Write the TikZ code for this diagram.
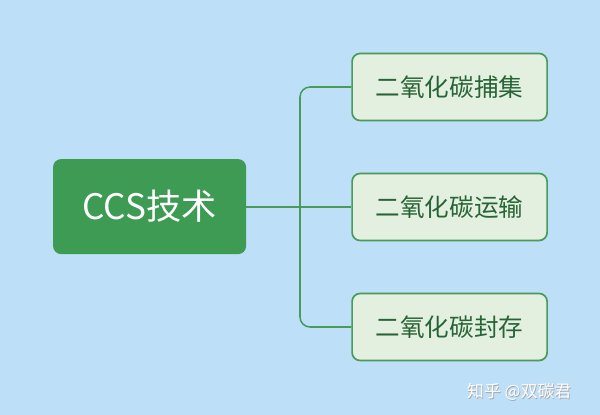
\documentclass[tikz,border=0pt]{standalone}
\usepackage{fontspec}
\setmainfont{Noto Sans CJK SC}
\usepackage{xcolor}
\usetikzlibrary{positioning,calc}

\definecolor{bgblue}{RGB}{189,223,248}
\definecolor{rootgreen}{RGB}{62,155,83}
\definecolor{leafgreen}{RGB}{227,240,223}
\definecolor{edgegreen}{RGB}{74,154,90}
\definecolor{textgreen}{RGB}{40,100,55}

\begin{document}
\begin{tikzpicture}[
					% Style cho nút gốc
					root/.style={rectangle, rounded corners=0.2cm, fill=rootgreen, draw=none,
						minimum width=4.825cm, minimum height=2.375cm,
						text=white, font=\fontsize{25}{28}\selectfont},
					% Style cho các nhánh
					leaf/.style={rectangle, rounded corners=0.2cm, fill=leafgreen, draw=edgegreen,
						line width=1.2pt, minimum width=4.875cm, minimum height=1.675cm,
						text=textgreen, font=\fontsize{17.5}{20}\selectfont},
					% Style cho đường nối
					link/.style={draw=edgegreen, line width=1.1pt},
					% Style cho chữ mờ góc dưới
					mark_text/.style={font=\fontsize{12}{14}\selectfont}
					]
					
					% ================= Nền =================
					\fill[bgblue] (0, 0) rectangle (15, 10.375);
					\useasboundingbox (0, 0) rectangle (15, 10.375);
					
					% ================= Nút gốc =================
					\node[root] (ccs) at (3.74, 5.21) {CCS技术};
					
					% ================= Các nhánh =================
					\node[leaf] (capture) at (11.24, 8.2) {二氧化碳捕集};
					\node[leaf] (transport) at (11.24, 5.2) {二氧化碳运输};
					\node[leaf] (storage) at (11.24, 2.2) {二氧化碳封存};
					
					% ================= Đường nối =================
					\coordinate (trunk) at (7.5, 5.2);
					\draw[link] (ccs.east |- trunk) -- (transport.west);
					\draw[link, rounded corners=0.25cm] (trunk) |- (capture.west);
					\draw[link, rounded corners=0.25cm] (trunk) |- (storage.west);
					
					% ================= Chữ mờ =================
					\node[mark_text, text=black!35] (wm_shadow) at (13.0, 0.56) {知乎 @双碳君};
					\node[mark_text, text=white] (wm) at (12.98, 0.575) {知乎 @双碳君};
					
				\end{tikzpicture}
\end{document}
